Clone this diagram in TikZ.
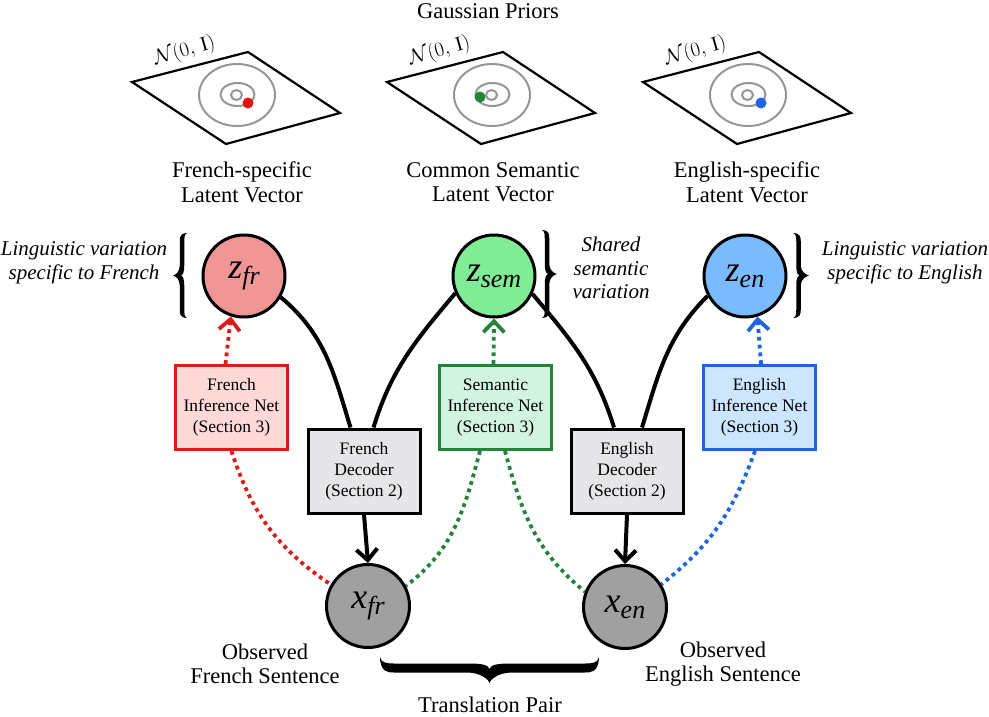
\RequirePackage{fix-cm}
\documentclass[tikz,border=0pt]{standalone}
\usepackage{fontspec}
\setmainfont{Liberation Serif}
\usetikzlibrary{arrows.meta}
\definecolor{zfrfill}{RGB}{240,150,150}
\definecolor{zsemfill}{RGB}{128,236,150}
\definecolor{zenfill}{RGB}{122,186,255}
\definecolor{xfill}{RGB}{160,160,160}
\definecolor{frbox}{RGB}{255,216,216}
\definecolor{frline}{RGB}{215,30,20}
\definecolor{sembox}{RGB}{210,245,225}
\definecolor{semline}{RGB}{35,130,60}
\definecolor{enbox}{RGB}{205,230,255}
\definecolor{enline}{RGB}{30,100,220}
\definecolor{decfill}{RGB}{230,230,233}
\definecolor{ringc}{RGB}{150,150,150}
\definecolor{dotred}{RGB}{225,20,10}
\definecolor{dotgreen}{RGB}{30,135,55}
\definecolor{dotblue}{RGB}{30,100,235}
\newcommand\varlab[2]{{\fontsize{36}{36}\selectfont\itshape #1\raisebox{-6pt}{\fontsize{26}{26}\selectfont #2}}}
% filled brace, pointing to local -y; args: half length, amplitude, band offset, band thickness, hook length, centre curve length
\newcommand\mybrace[6]{%
\fill (-#1,0) .. controls (-#1+1,{-#3+#4/2}) and ({-#1+0.6*#5},{-#3+#4/2}) .. ({-#1+#5},{-#3+#4/2})
 -- ({-#6},{-#3+#4/2}) .. controls ({-0.4*#6},{-#3+#4/2}) and (-1,{-#3+#4/2-1}) .. (0,{-#3-1})
 .. controls (1,{-#3+#4/2-1}) and ({0.4*#6},{-#3+#4/2}) .. (#6,{-#3+#4/2})
 -- ({#1-#5},{-#3+#4/2}) .. controls ({#1-0.6*#5},{-#3+#4/2}) and (#1-1,{-#3+#4/2}) .. (#1,0)
 .. controls ({#1-0.3},{-#3-#4/2}) and ({#1-0.6*#5},{-#3-#4/2}) .. ({#1-#5},{-#3-#4/2})
 -- (#6,{-#3-#4/2}) .. controls ({0.4*#6},{-#3-#4/2}) and (0.5,{-#2+3}) .. (0,-#2)
 .. controls (-0.5,{-#2+3}) and ({-0.4*#6},{-#3-#4/2}) .. (-#6,{-#3-#4/2})
 -- ({-#1+#5},{-#3-#4/2}) .. controls ({-#1+0.6*#5},{-#3-#4/2}) and ({-#1+0.3},{-#3-#4/2}) .. (-#1,0) -- cycle;}
\begin{document}
\begin{tikzpicture}[x=1pt,y=1pt,
  zn/.style={circle,draw,line width=3pt,minimum size=82pt,inner sep=0pt},
  xn/.style={circle,draw,line width=3pt,minimum size=83pt,inner sep=0pt,fill=xfill},
  netbox/.style={rectangle,draw,line width=3pt,minimum width=112pt,minimum height=84pt,inner sep=0pt,align=center,font=\fontsize{17.5}{21}\selectfont},
  lab/.style={align=center,inner sep=0pt,font=\fontsize{22.5}{24.5}\selectfont},
  itlab/.style={align=center,inner sep=0pt,font=\fontsize{21}{23.5}\selectfont\itshape},
  plane/.style={line width=2.2pt,line join=miter},
  ring/.style={draw=ringc,line width=2pt},
  blk/.style={line width=4pt},
  barb/.style={-{Straight Barb[length=11pt,width=21pt]}},
  dotr/.style={draw=frline,line width=3.8pt,dash pattern=on 3.8pt off 4pt},
  dotg/.style={draw=semline,line width=3.8pt,dash pattern=on 3.8pt off 4pt},
  dotb/.style={draw=enline,line width=3.8pt,dash pattern=on 3.8pt off 4pt}
]
\useasboundingbox (0,0) rectangle (989,-716);

% title
\node[lab] (gp) at (488,-11) {Gaussian Priors};

% priors
\foreach \dx/\px/\py/\pc/\nm in {0/248/-103/dotred/a, 255/480/-97/dotgreen/b, 511/761/-103/dotblue/c}{
  \begin{scope}[xshift=\dx pt]
    \draw[plane] (132,-82) -- (248,-52) -- (340,-113) -- (226,-144) -- cycle;
    \draw[ring] (237,-95) ellipse [x radius=38pt, y radius=31pt];
    \draw[ring] (237.5,-94.5) ellipse [x radius=17pt, y radius=11.5pt];
    \draw[ring] (236.5,-95) ellipse [x radius=5.5pt, y radius=5pt];
    \node[rotate=16,inner sep=0pt,font=\fontsize{20.5}{20.5}\selectfont] (n\nm) at (184.5,-51) {$\mathcal{N}(0,\,\mathrm{I})$};
  \end{scope}
  \fill[\pc] (\px,\py) circle [radius=5.5pt];
}

\node[lab] (l1) at (242,-182) {French-specific\\Latent Vector};
\node[lab] (l2) at (493,-182) {Common Semantic\\Latent Vector};
\node[lab] (l3) at (747,-182) {English-specific\\Latent Vector};

% latent nodes
\node[zn,fill=zfrfill] (zfr) at (244,-276) {\varlab{z}{fr}};
\node[zn,fill=zsemfill] (zsem) at (494,-276) {\varlab{z}{sem}};
\node[zn,fill=zenfill] (zen) at (745,-276) {\varlab{z}{en}};

% braces
\begin{scope}[shift={(187,-275.5)},rotate=-90]\mybrace{42.5}{14}{5}{4.5}{8}{10}\end{scope}
\begin{scope}[shift={(542,-274)},rotate=90]\mybrace{44}{15}{5}{4.5}{8}{10}\end{scope}
\begin{scope}[shift={(793,-275.5)},rotate=90]\mybrace{42.5}{16}{5.5}{4.5}{8}{10}\end{scope}

\node[itlab] (t1) at (84,-263) {Linguistic variation\\specific to French};
\node[itlab] (t2) at (611,-268) {Shared\\semantic\\variation};
\node[itlab] (t3) at (905,-263) {Linguistic variation\\specific to English};

% boxes
\node[netbox,fill=frbox,draw=frline] (fin) at (231.5,-407.5) {French\\Inference Net\\(Section 3)};
\node[netbox,fill=sembox,draw=semline] (sin) at (495.5,-407.5) {Semantic\\Inference Net\\(Section 3)};
\node[netbox,fill=enbox,draw=enline] (ein) at (759.5,-407.5) {English\\Inference Net\\(Section 3)};
\node[netbox,fill=decfill] (fdec) at (364,-471) {French\\Decoder\\(Section 2)};
\node[netbox,fill=decfill] (edec) at (627,-471) {English\\Decoder\\(Section 2)};

% observed
\node[xn] (xfr) at (368,-606) {\varlab{x}{fr}};
\node[xn] (xen) at (625,-607) {\varlab{x}{en}};

\node[lab] (o1) at (265,-664) {Observed\\French Sentence};
\node[lab] (o2) at (723,-664) {Observed\\English Sentence};

\begin{scope}[shift={(489.5,-657)}]\mybrace{109.5}{26}{11}{9}{14}{22}\end{scope}
\node[lab] (tp) at (490,-705) {Translation Pair};

% generative connections
\draw[blk] (zfr.-30) to[out=-40,in=107] ([xshift=-13.5pt]fdec.north);
\draw[blk] (zsem.-156) to[out=-130,in=73] ([xshift=9.5pt]fdec.north);
\draw[blk] (zsem.-25) to[out=-50,in=107] ([xshift=-13pt]edec.north);
\draw[blk] (zen.-152) to[out=-135,in=73] ([xshift=15pt]edec.north);
\draw[blk,barb] (fdec.south) -- (xfr.north);
\draw[blk,barb] (edec.south) -- (xen.north);

% inference connections
\draw[dotr] (fin.south) to[out=-72,in=146] (xfr.150);
\draw[dotr,barb] ([xshift=-6pt]fin.north) -- (zfr.-108);
\draw[dotg] ([xshift=-15.5pt]sin.south) to[out=-105,in=37] (xfr.28);
\draw[dotg] ([xshift=9.5pt]sin.south) to[out=-75,in=141] (xen.159);
\draw[dotg,barb] ([xshift=-2pt]sin.north) -- (zsem.south);
\draw[dotb] ([xshift=-4.5pt]ein.south) to[out=-110,in=38] (xen.32);
\draw[dotb,barb] ([xshift=1.5pt]ein.north) -- (zen.-73);
\end{tikzpicture}
\end{document}
